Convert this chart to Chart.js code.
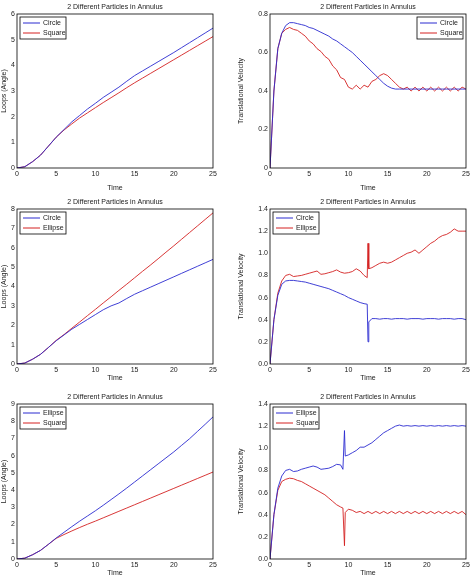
<!DOCTYPE html>
<html><head><meta charset="utf-8">
<script src="https://cdn.jsdelivr.net/npm/chart.js@4.4.0/dist/chart.umd.min.js"></script>
<style>
body{margin:0;background:#fff;width:474px;height:577px;overflow:hidden;position:relative}
.cell{position:absolute;width:237px;height:192px}
</style></head><body>
<div class="cell" style="left:0;top:0"><canvas id="c1"></canvas></div>
<div class="cell" style="left:237px;top:0"><canvas id="c2"></canvas></div>
<div class="cell" style="left:0;top:190px"><canvas id="c3"></canvas></div>
<div class="cell" style="left:237px;top:190px"><canvas id="c4"></canvas></div>
<div class="cell" style="left:0;top:385px"><canvas id="c5"></canvas></div>
<div class="cell" style="left:237px;top:385px"><canvas id="c6"></canvas></div>
<script>
const TITLE = '2 Different Particles in Annulus';
const BLUE = '#2a2ad0', RED = '#d42020';

// loops (angle) vs time, t = 0..25 step 1
const tLoops = [0,1,2,3,4,5,6,7,8,9,10,11,12,13,14,15,16,17,18,19,20,21,22,23,24,25];
const loopsCircle1 = [0,.05,.25,.5,.85,1.2,1.5,1.8,2.05,2.3,2.52,2.75,2.95,3.15,3.38,3.6,3.78,3.96,4.14,4.32,4.5,4.69,4.88,5.07,5.26,5.45];
const loopsSquare1 = [0,.05,.25,.5,.85,1.2,1.48,1.72,1.95,2.15,2.35,2.55,2.74,2.93,3.13,3.32,3.5,3.68,3.86,4.04,4.22,4.4,4.58,4.76,4.94,5.12];
const loopsCircle2 = [0,.05,.25,.5,.85,1.2,1.5,1.8,2.05,2.3,2.55,2.8,3.0,3.15,3.38,3.6,3.78,3.96,4.14,4.32,4.5,4.68,4.86,5.04,5.22,5.4];
const loopsEllipse2 = [0,.05,.25,.5,.85,1.22,1.52,1.85,2.17,2.5,2.82,3.15,3.47,3.8,4.12,4.45,4.78,5.1,5.43,5.77,6.1,6.44,6.78,7.12,7.46,7.8];
const loopsEllipse3 = [0,.05,.25,.5,.85,1.22,1.55,1.88,2.2,2.5,2.8,3.12,3.45,3.78,4.12,4.47,4.82,5.17,5.52,5.87,6.22,6.6,6.98,7.4,7.82,8.25];
const loopsSquare3 = [0,.05,.25,.5,.85,1.2,1.42,1.63,1.83,2.02,2.2,2.39,2.58,2.77,2.96,3.15,3.34,3.53,3.72,3.91,4.1,4.29,4.48,4.67,4.86,5.05];

// translational velocity, t = 0..25 step 0.5
const tVel1 = [0,.5,1,1.5,2,2.5,3,3.5,4,4.5,5,5.5,6,6.5,7,7.5,8,8.5,9,9.5,10,10.5,11,11.5,12,12.5,13,13.5,14,14.5,15,15.5,16,16.5,17,17.5,18,18.5,19,19.5,20,20.5,21,21.5,22,22.5,23,23.5,24,24.5,25];
const velCircle1 = [0,.4,.62,.7,.74,.755,.755,.75,.745,.74,.73,.725,.715,.705,.695,.685,.67,.66,.645,.63,.615,.6,.58,.56,.54,.52,.5,.48,.46,.44,.425,.415,.41,.41,.41,.41,.41,.41,.41,.41,.41,.41,.41,.41,.41,.41,.41,.41,.41,.41,.41];
const velSquare1 = [0,.4,.62,.7,.72,.73,.72,.715,.70,.685,.66,.645,.62,.605,.58,.565,.53,.51,.47,.46,.42,.41,.43,.41,.43,.42,.45,.46,.48,.49,.48,.46,.44,.42,.41,.42,.40,.42,.40,.42,.40,.42,.40,.42,.40,.42,.40,.42,.40,.42,.41];

const tCircle2 = [0,.5,1,1.5,2,2.5,3,3.5,4,4.5,5,5.5,6,6.5,7,7.5,8,8.5,9,9.5,10,10.5,11,11.5,12,12.4,12.5,12.6,13,13.5,14,14.5,15,15.5,16,16.5,17,17.5,18,18.5,19,19.5,20,20.5,21,21.5,22,22.5,23,23.5,24,24.5,25];
const velCircle2 = [0,.4,.62,.72,.75,.755,.755,.75,.745,.74,.73,.72,.71,.70,.69,.68,.665,.65,.635,.62,.60,.585,.57,.555,.545,.54,.2,.38,.41,.41,.405,.41,.41,.405,.41,.41,.41,.405,.41,.41,.41,.405,.41,.41,.41,.405,.41,.41,.41,.405,.41,.41,.40];
const tEllipse2 = tCircle2;
const velEllipse2 = [0,.4,.64,.75,.80,.81,.79,.795,.80,.81,.82,.83,.84,.81,.815,.825,.835,.85,.83,.82,.825,.835,.86,.84,.80,.78,1.09,.86,.87,.89,.91,.92,.91,.92,.94,.96,.98,1.0,1.01,1.03,1.0,1.03,1.06,1.09,1.11,1.14,1.16,1.17,1.19,1.22,1.2,1.2,1.2];

const tVel3 = [0,.5,1,1.5,2,2.5,3,3.5,4,4.5,5,5.5,6,6.5,7,7.5,8,8.5,9,9.3,9.5,9.6,10,10.5,11,11.5,12,12.5,13,13.5,14,14.5,15,15.5,16,16.5,17,17.5,18,18.5,19,19.5,20,20.5,21,21.5,22,22.5,23,23.5,24,24.5,25];
const velEllipse3 = [0,.4,.64,.75,.80,.81,.79,.795,.81,.82,.83,.84,.83,.81,.815,.82,.835,.855,.85,.81,1.16,.93,.94,.96,.98,1.01,1.01,1.03,1.05,1.08,1.11,1.14,1.16,1.18,1.2,1.21,1.2,1.205,1.2,1.205,1.2,1.205,1.2,1.205,1.2,1.205,1.2,1.205,1.2,1.205,1.2,1.205,1.2];
const velSquare3 = [0,.4,.62,.7,.72,.73,.725,.71,.70,.68,.66,.64,.62,.60,.58,.55,.52,.49,.47,.46,.12,.42,.45,.44,.42,.43,.41,.43,.41,.43,.41,.43,.41,.43,.41,.43,.41,.43,.41,.43,.41,.43,.41,.43,.41,.43,.41,.43,.41,.43,.41,.43,.40];

const pts = (xs, ys) => ys.map((y, i) => ({ x: xs[i], y }));

const frame = {
  id: 'frame',
  afterDraw(chart) {
    const { ctx, chartArea: a } = chart;
    const o = chart.options.plugins.frame;
    ctx.save();
    ctx.strokeStyle = '#000'; ctx.lineWidth = 0.8;
    ctx.strokeRect(a.left, a.top, a.right - a.left, a.bottom - a.top);
    ctx.font = '7px Arial, "Liberation Sans", sans-serif';
    ctx.fillStyle = '#222'; ctx.textAlign = 'center'; ctx.textBaseline = 'bottom';
    ctx.fillText(TITLE, (a.left + a.right) / 2, a.top - 3);
    // legend box
    const w = 46, h = 22;
    const lx = o.legendRight ? a.right - w - 3 : a.left + 3, ly = a.top + 3;
    ctx.fillStyle = '#fff'; ctx.fillRect(lx, ly, w, h);
    ctx.strokeRect(lx, ly, w, h);
    chart.data.datasets.forEach((d, i) => {
      const y = ly + 6 + i * 10;
      ctx.strokeStyle = d.borderColor; ctx.lineWidth = 1;
      ctx.beginPath(); ctx.moveTo(lx + 3, y); ctx.lineTo(lx + 20, y); ctx.stroke();
      ctx.fillStyle = '#222'; ctx.textAlign = 'left'; ctx.textBaseline = 'middle';
      ctx.fillText(d.label, lx + 23, y);
    });
    ctx.restore();
  }
};

function makeChart(id, series, yMax, yStep, yLabel, fixed, opts) {
  const tickFont = { size: 7, family: 'Arial, "Liberation Sans", sans-serif' };
  new Chart(document.getElementById(id), {
    type: 'line',
    data: {
      datasets: series.map(s => ({
        label: s.label, data: s.data, borderColor: s.color,
        borderWidth: 0.9, pointRadius: 0, tension: 0, fill: false
      }))
    },
    options: {
      responsive: true, maintainAspectRatio: false, animation: false,
      layout: { padding: { top: opts.top, right: opts.right, left: 0, bottom: 0 } },
      plugins: { legend: { display: false }, tooltip: { enabled: false }, frame: { legendRight: opts.legendRight } },
      scales: {
        x: {
          type: 'linear', min: 0, max: 25,
          ticks: { stepSize: 5, color: '#222', font: tickFont, padding: 2, maxRotation: 0 },
          grid: { display: false, drawTicks: false, tickLength: 0 }, border: { display: false },
          title: { display: true, text: 'Time', color: '#222', font: tickFont, padding: 0 },
          afterFit: s => { s.height = opts.bottom; }
        },
        y: {
          min: 0, max: yMax,
          ticks: { stepSize: yStep, color: '#222', font: tickFont, padding: 2,
                   callback: v => fixed ? v.toFixed(1) : v },
          grid: { display: false, drawTicks: false, tickLength: 0 }, border: { display: false },
          title: { display: true, text: yLabel, color: '#222', font: tickFont, padding: 0 },
          afterFit: s => { s.width = opts.left; }
        }
      }
    },
    plugins: [frame]
  });
}

const L1 = { top: 14, bottom: 24, left: 17, right: 24, legendRight: false };
const R1 = { top: 14, bottom: 24, left: 33, right: 8, legendRight: true };
const L2 = { top: 19, bottom: 18, left: 17, right: 24, legendRight: false };
const R2 = { top: 19, bottom: 18, left: 33, right: 8, legendRight: false };

makeChart('c1', [
  { label: 'Circle', data: pts(tLoops, loopsCircle1), color: BLUE },
  { label: 'Square', data: pts(tLoops, loopsSquare1), color: RED }
], 6, 1, 'Loops (Angle)', false, L1);
makeChart('c2', [
  { label: 'Circle', data: pts(tVel1, velCircle1), color: BLUE },
  { label: 'Square', data: pts(tVel1, velSquare1), color: RED }
], 0.8, 0.2, 'Translational Velocity', false, R1);
makeChart('c3', [
  { label: 'Circle', data: pts(tLoops, loopsCircle2), color: BLUE },
  { label: 'Ellipse', data: pts(tLoops, loopsEllipse2), color: RED }
], 8, 1, 'Loops (Angle)', false, L2);
makeChart('c4', [
  { label: 'Circle', data: pts(tCircle2, velCircle2), color: BLUE },
  { label: 'Ellipse', data: pts(tEllipse2, velEllipse2), color: RED }
], 1.4, 0.2, 'Translational Velocity', true, R2);
makeChart('c5', [
  { label: 'Ellipse', data: pts(tLoops, loopsEllipse3), color: BLUE },
  { label: 'Square', data: pts(tLoops, loopsSquare3), color: RED }
], 9, 1, 'Loops (Angle)', false, L2);
makeChart('c6', [
  { label: 'Ellipse', data: pts(tVel3, velEllipse3), color: BLUE },
  { label: 'Square', data: pts(tVel3, velSquare3), color: RED }
], 1.4, 0.2, 'Translational Velocity', true, R2);
</script>
</body></html>
